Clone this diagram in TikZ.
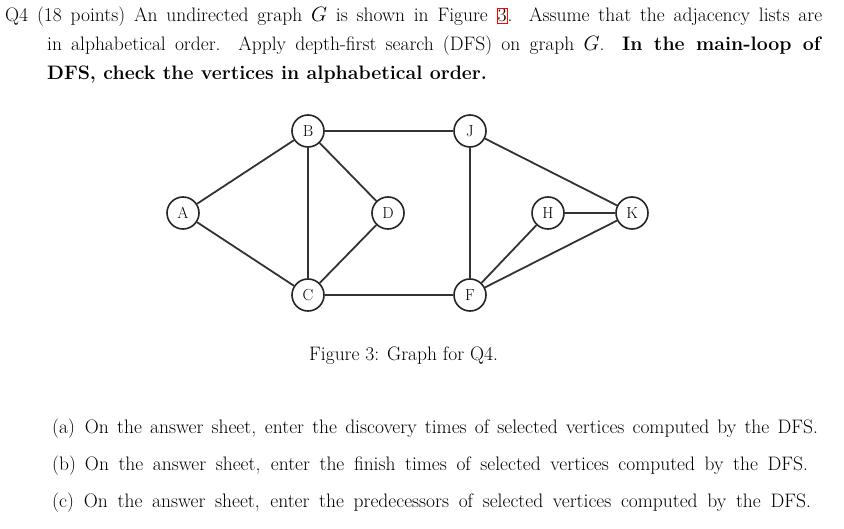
\documentclass[tikz,border=0pt]{standalone}
\begin{document}
\begin{tikzpicture}[x=1pt,y=-1pt,
  vtx/.style={circle,draw=black!85,line width=1.6pt,fill=white,minimum size=32pt,inner sep=0pt,font=\fontsize{16}{18}\selectfont},
  edge/.style={draw=black!80,line width=1.8pt},
  txt/.style={anchor=base west,inner sep=0pt,font=\fontsize{19.5}{22}\selectfont}]
\useasboundingbox (0,0) rectangle (844,529);
\node[txt] (l1) at (5,22) {\makebox[817pt][s]{Q4 (18 points) An undirected graph $G$ is shown in Figure {\setlength\fboxsep{0.5pt}\setlength\fboxrule{0.5pt}\color{red}\fbox{\color{black}3}}. Assume that the adjacency lists are}};
\node[txt] (l2) at (47,51) {\makebox[775pt][s]{in alphabetical order. Apply depth-first search (DFS) on graph $G$. \textbf{In the main-loop of}}};
\node[txt] (l3) at (47,80) {\textbf{DFS, check the vertices in alphabetical order.}};
\node[vtx] (A) at (183,213) {A};
\node[vtx] (B) at (308,131) {B};
\node[vtx] (J) at (470,131) {J};
\node[vtx] (D) at (388,213) {D};
\node[vtx] (H) at (548,213) {H};
\node[vtx] (K) at (632,213) {K};
\node[vtx] (C) at (308,295) {C};
\node[vtx] (F) at (470,295) {F};
\foreach \u/\v in {A/B,A/C,B/J,B/C,B/D,D/C,C/F,J/K,J/F,F/H,F/K,H/K}
  \draw[edge] (\u) -- (\v);
\node[txt] (cap) at (309,361) {Figure 3: Graph for Q4.};
\node[txt] (a) at (52,434) {(a)\hspace{10pt}\makebox[733pt][s]{On the answer sheet, enter the discovery times of selected vertices computed by the DFS.}};
\node[txt] (b) at (52,471) {(b)\hspace{9pt}\makebox[723pt][s]{On the answer sheet, enter the finish times of selected vertices computed by the DFS.}};
\node[txt] (c) at (52,507) {(c)\hspace{10pt}\makebox[727pt][s]{On the answer sheet, enter the predecessors of selected vertices computed by the DFS.}};
\end{tikzpicture}
\end{document}
